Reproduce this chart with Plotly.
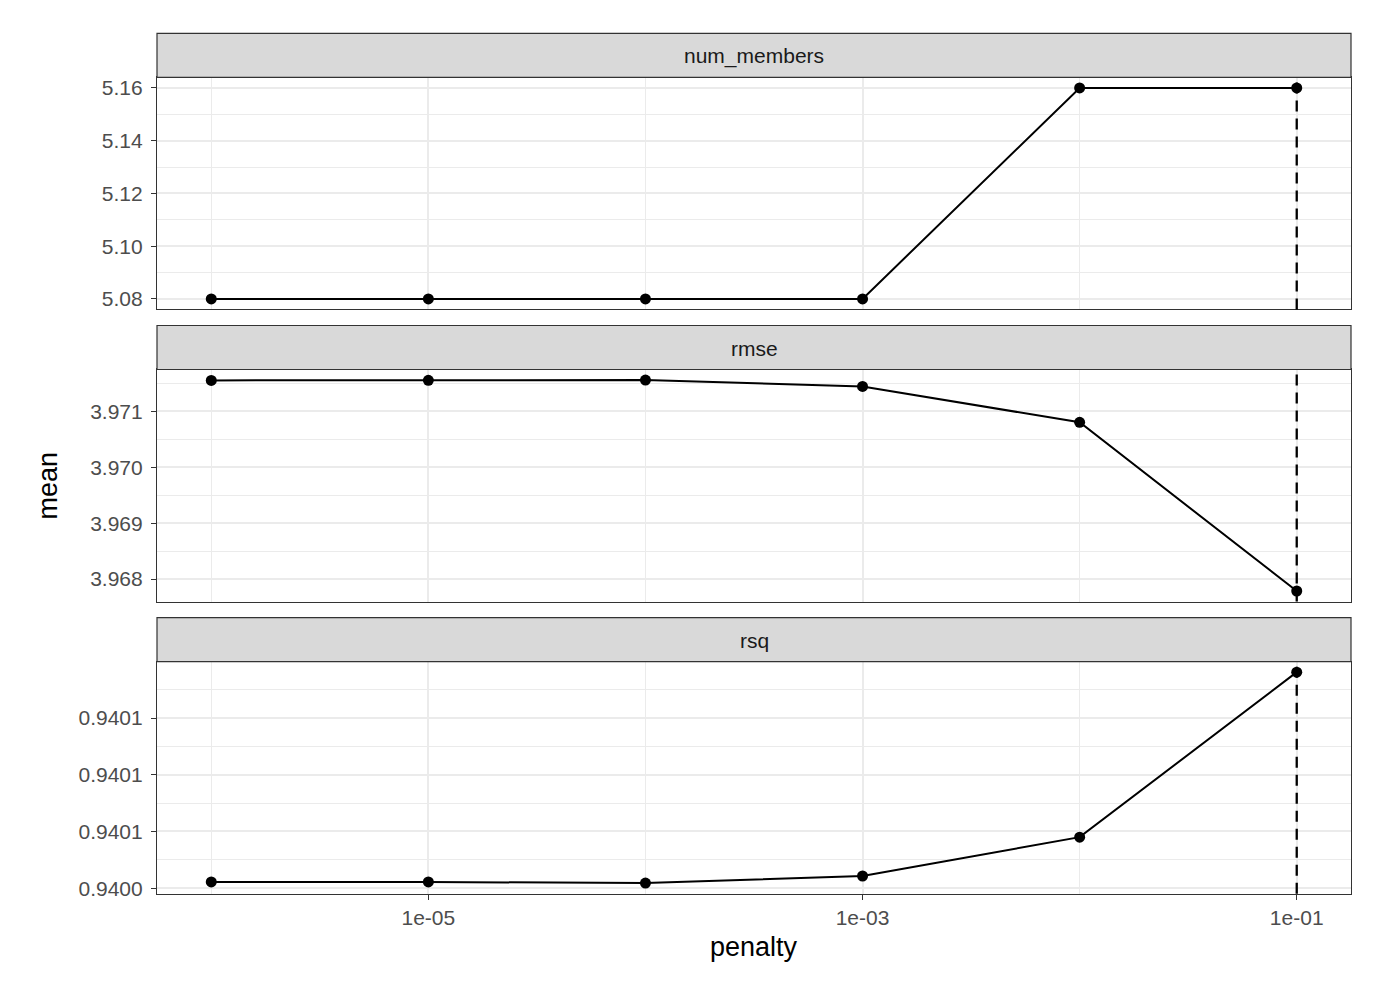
import plotly.graph_objects as go

# tuning results: mean metric by penalty
penalty = [1e-06, 1e-05, 1e-04, 1e-03, 1e-02, 1e-01]
num_members = [5.08, 5.08, 5.08, 5.08, 5.16, 5.16]
rmse = [3.971554, 3.971556, 3.971560, 3.971446, 3.970804, 3.967786]
rsq = [0.9400422, 0.9400422, 0.9400418, 0.9400443, 0.9400580, 0.9401162]
best_penalty = 0.1

metrics = ["num_members", "rmse", "rsq"]
values = [num_members, rmse, rsq]
y_ticks = [
    [5.08, 5.10, 5.12, 5.14, 5.16],
    [3.968, 3.969, 3.970, 3.971],
    [0.94004, 0.94006, 0.94008, 0.94010],
]
y_ticktext = [
    ["5.08", "5.10", "5.12", "5.14", "5.16"],
    ["3.968", "3.969", "3.970", "3.971"],
    ["0.9400", "0.9401", "0.9401", "0.9401"],
]
x_ticks = [1e-05, 1e-03, 1e-01]
x_ticktext = ["1e-05", "1e-03", "1e-01"]
x_minor = [1e-06, 1e-04, 1e-02]

# page body has an 8px margin, so the figure is drawn 8px in from the window;
# the photo comes out slightly squashed vertically, YS corrects for it
OFF = 8
YS = 1 / 0.9925
W, H = 1400 - 2 * OFF, 968
left, right = 157, 1351
panels = [(77, 309), (369, 601), (661, 893)]  # target pixel top/bottom of each panel
strip_h = 44


def px(x):
    return (x - OFF) / W


def py(y):
    return 1 - ((y - 0.66) * YS - OFF) / H


fig = go.Figure()
shapes = []
annotations = []

for i, (name, vals) in enumerate(zip(metrics, values)):
    n = "" if i == 0 else str(i + 1)
    top, bot = panels[i]
    fig.add_trace(go.Scatter(
        x=penalty, y=vals, mode="lines+markers",
        line=dict(color="black", width=2),
        marker=dict(color="black", size=11),
        xaxis="x" + n, yaxis="y" + n, showlegend=False))

    lo, hi = min(vals), max(vals)
    pad = (hi - lo) * 0.05
    ticks = y_ticks[i]
    step = ticks[1] - ticks[0]
    minor = [ticks[0] - step / 2] + [t + step / 2 for t in ticks]
    minor = [m for m in minor if lo - pad < m < hi + pad]

    last = i == len(metrics) - 1
    fig.layout["xaxis" + n] = dict(
        type="log", range=[-6.25, -0.75],
        domain=[px(left), px(right)],
        anchor="y" + n,
        tickvals=x_ticks, ticktext=x_ticktext,
        showticklabels=last,
        ticks="outside" if last else "", ticklen=5, tickwidth=1.3, tickcolor="#333333",
        tickfont=dict(size=21, color="#4d4d4d"),
        ticklabelstandoff=0,
        showgrid=True, gridcolor="#ebebeb", gridwidth=2,
        minor=dict(tickvals=x_minor, showgrid=True, gridcolor="#ebebeb", gridwidth=1, ticks=""),
        showline=True, mirror=True, linecolor="#333333", linewidth=1.2,
        zeroline=False,
    )
    fig.layout["yaxis" + n] = dict(
        range=[lo - pad, hi + pad],
        domain=[py(bot), py(top)],
        anchor="x" + n,
        tickvals=ticks, ticktext=y_ticktext[i],
        ticks="outside", ticklen=5, tickwidth=1.3, tickcolor="#333333",
        tickfont=dict(size=21, color="#4d4d4d"),
        ticklabelstandoff=4,
        showgrid=True, gridcolor="#ebebeb", gridwidth=2,
        minor=dict(tickvals=minor, showgrid=True, gridcolor="#ebebeb", gridwidth=1, ticks=""),
        showline=True, mirror=True, linecolor="#333333", linewidth=1.2,
        zeroline=False,
    )

    # facet strip
    shapes.append(dict(type="rect", xref="paper", yref="paper",
                       x0=px(left), x1=px(right),
                       y0=py(top), y1=py(top - strip_h),
                       fillcolor="#d9d9d9", line=dict(color="#333333", width=1.2)))
    annotations.append(dict(text=name, xref="paper", yref="paper",
                            x=px((left + right) / 2), y=py(top - strip_h / 2 + 1),
                            showarrow=False, font=dict(size=21, color="#1a1a1a"),
                            xanchor="center", yanchor="middle"))
    # best penalty marker
    shapes.append(dict(type="line", xref="x" + n, yref="y" + n + " domain",
                       x0=best_penalty, x1=best_penalty, y0=0, y1=1,
                       line=dict(color="black", width=2.3, dash="11px,7px")))

annotations.append(dict(text="mean", xref="paper", yref="paper",
                        x=px(48), y=py(485), textangle=-90,
                        showarrow=False, font=dict(size=27, color="black"),
                        xanchor="center", yanchor="middle"))
annotations.append(dict(text="penalty", xref="paper", yref="paper",
                        x=px((left + right) / 2), y=py(946),
                        showarrow=False, font=dict(size=27, color="black"),
                        xanchor="center", yanchor="middle"))

fig.update_layout(
    width=W, height=H,
    margin=dict(l=0, r=0, t=0, b=0),
    paper_bgcolor="white", plot_bgcolor="white",
    font=dict(family="Liberation Sans, Arial, sans-serif"),
    shapes=shapes, annotations=annotations,
)

fig.write_html("out.html")
